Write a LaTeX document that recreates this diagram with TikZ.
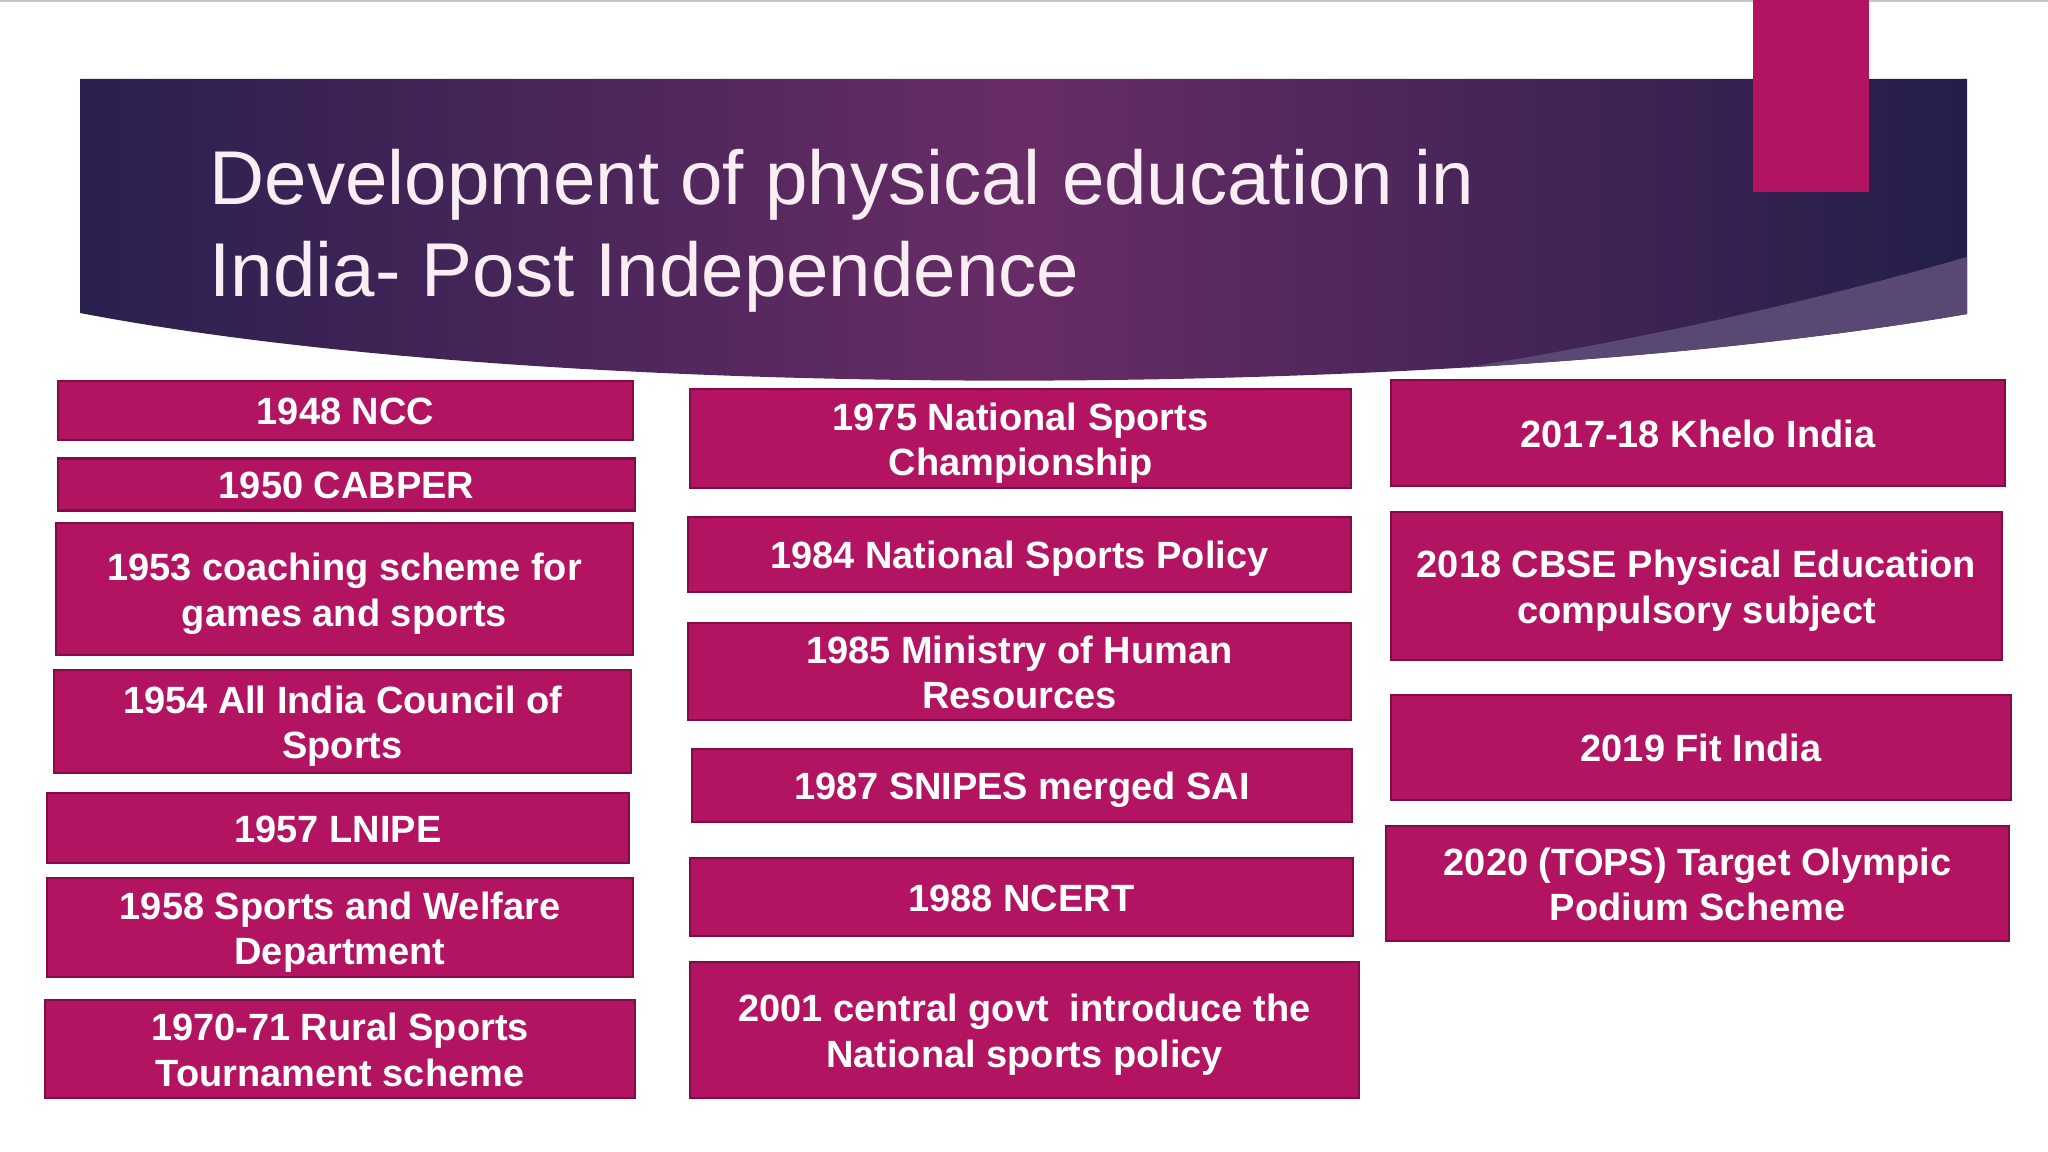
\documentclass[tikz,border=0pt]{standalone}
\usepackage{fontspec}
\setmainfont{Liberation Sans}
\usepackage{tikz}
\usetikzlibrary{positioning}

\definecolor{slidemag}{RGB}{179,20,98}
\definecolor{slideedge}{RGB}{128,14,68}
\definecolor{bandL}{RGB}{42,32,78}
\definecolor{bandM}{RGB}{104,44,102}
\definecolor{bandR}{RGB}{36,30,74}
\definecolor{wedge}{RGB}{88,72,115}
\newcommand{\lnst}{\rule[-2.3pt]{0pt}{12.8pt}}

\begin{document}
\begin{tikzpicture}[x=0.01cm,y=-0.01cm]
 \tikzstyle{evt}=[draw=slideedge, line width=0.6pt, fill=slidemag, text=white, font=\fontsize{10.8}{13}\selectfont\bfseries, align=center, inner sep=1pt, execute at begin node=\lnst, execute at end node=\lnst]
 \tikzstyle{ttl}=[text=white!93!slidemag, font=\fontsize{21.7}{26}\selectfont, anchor=base west, inner sep=0pt]

 \useasboundingbox (0,0) rectangle (2048,1152);
 \fill[white] (0,0) rectangle (2048,1152);
 \draw[gray!45, line width=0.6pt] (0,1) -- (2048,1);

 % title band
 \path[left color=bandL, right color=bandR, middle color=bandM]
   (80,79) -- (1967,79) -- (1967,314) .. controls (1450,403) and (550,403) .. (80,313) -- cycle;
 \begin{scope}
  \clip (80,79) -- (1967,79) -- (1967,314) .. controls (1450,403) and (550,403) .. (80,313) -- cycle;
  \fill[wedge] (1967,257) .. controls (1800,305) and (1600,350) .. (1350,385) -- (1350,420) -- (1967,420) -- cycle;
 \end{scope}
 \fill[slidemag] (1753,0) rectangle (1869,192);

 \node[ttl] (title1) at (209,205) {Development of physical education in};
 \node[ttl] (title2) at (209,297) {India- Post Independence};

 % left column
 \node[evt, minimum width=5.75cm, minimum height=0.59cm] (ncc)    at (345.5,410.5) {1948 NCC};
 \node[evt, minimum width=5.77cm, minimum height=0.51cm] (cabper) at (346.5,484.5) {1950 CABPER};
 \node[evt, minimum width=5.77cm, minimum height=1.32cm] (coach)  at (344.5,589)   {\lnst 1953 coaching scheme for\\games and sports\lnst};
 \node[evt, minimum width=5.77cm, minimum height=1.03cm] (aics)   at (342.5,721.5) {\lnst 1954 All India Council of\\Sports\lnst};
 \node[evt, minimum width=5.82cm, minimum height=0.70cm] (lnipe)  at (338,828)     {1957 LNIPE};
 \node[evt, minimum width=5.86cm, minimum height=0.99cm] (swd)    at (340,927.5)   {\lnst 1958 Sports and Welfare\\Department\lnst};
 \node[evt, minimum width=5.90cm, minimum height=0.94cm] (rural)  at (340,1049)    {\lnst 1970-71 Rural Sports\\Tournament scheme\lnst};

 % middle column
 \node[evt, minimum width=6.61cm, minimum height=0.99cm] (nsc)   at (1020.5,438.5) {\lnst 1975 National Sports\\Championship\lnst};
 \node[evt, minimum width=6.63cm, minimum height=0.75cm] (nsp)   at (1019.5,554.5) {1984 National Sports Policy};
 \node[evt, minimum width=6.63cm, minimum height=0.95cm] (mhr)   at (1019.5,671.5) {\lnst 1985 Ministry of Human\\Resources\lnst};
 \node[evt, minimum width=6.60cm, minimum height=0.73cm] (sai)   at (1022,785.5)   {1987 SNIPES merged SAI};
 \node[evt, minimum width=6.63cm, minimum height=0.78cm] (ncert) at (1021.5,897)   {1988 NCERT};
 \node[evt, minimum width=6.69cm, minimum height=1.36cm] (govt)  at (1024.5,1030)  {\lnst 2001 central govt\ \ introduce the\\National sports policy\lnst};

 % right column
 \node[evt, minimum width=6.14cm, minimum height=1.06cm] (khelo) at (1698,433)    {2017-18 Khelo India};
 \node[evt, minimum width=6.11cm, minimum height=1.48cm] (cbse)  at (1696.5,586)  {\lnst 2018 CBSE Physical Education\\compulsory subject\lnst};
 \node[evt, minimum width=6.20cm, minimum height=1.05cm] (fit)   at (1701,747.5)  {2019 Fit India};
 \node[evt, minimum width=6.23cm, minimum height=1.15cm] (tops)  at (1697.5,883.5) {\lnst 2020 (TOPS) Target Olympic\\Podium Scheme\lnst};
\end{tikzpicture}
\end{document}
